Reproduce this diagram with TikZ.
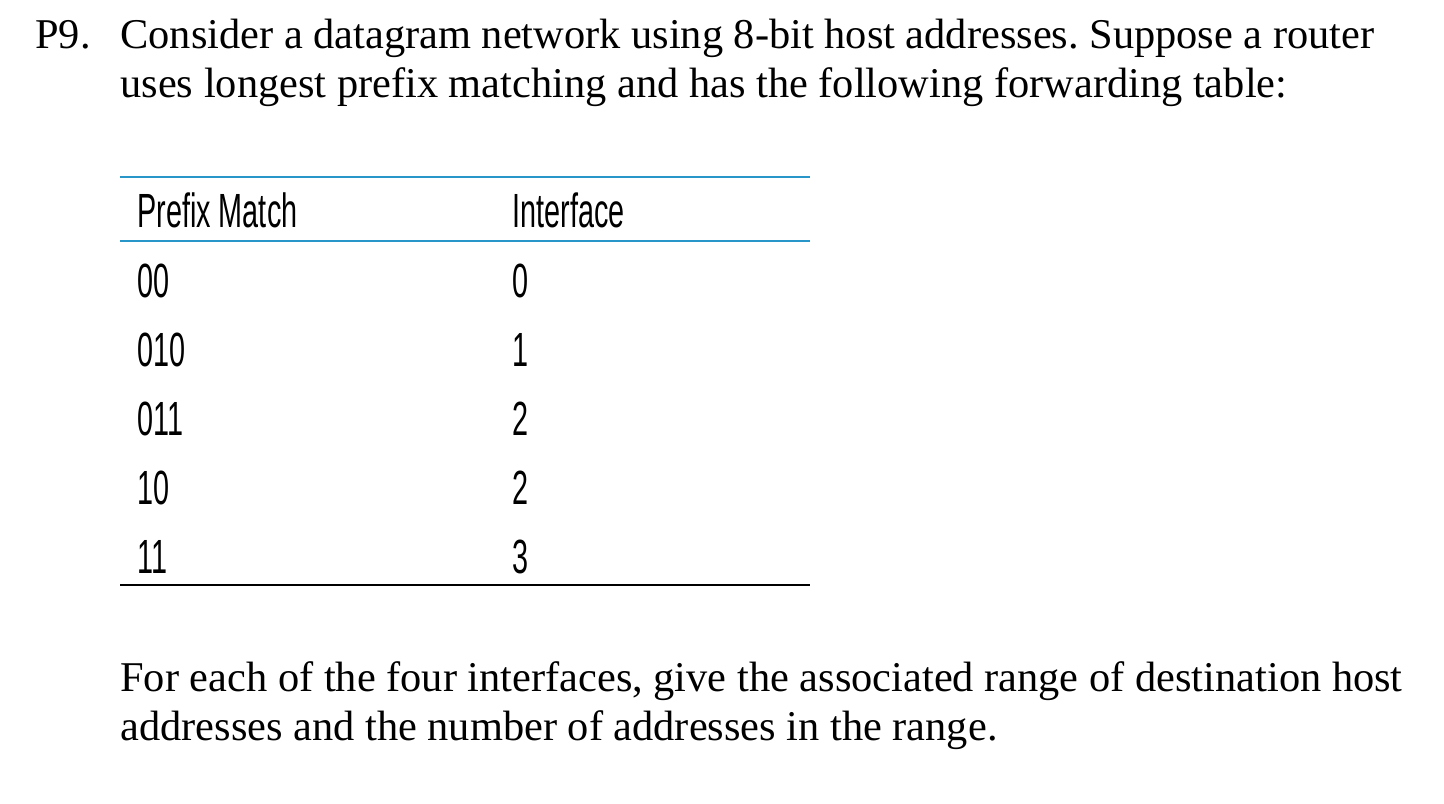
\documentclass[tikz,border=0pt]{standalone}
\usepackage{fontspec}
\setmainfont{Liberation Serif}
\newfontfamily\tabfont[FakeStretch=0.6]{Liberation Sans}
\usetikzlibrary{positioning}
\frenchspacing
\definecolor{rulecyan}{RGB}{40,150,200}
\tikzset{
  para/.style={anchor=base west, inner sep=0pt, font=\fontsize{21.2}{25}\selectfont},
  cell/.style={anchor=base west, inner sep=0pt, font=\tabfont\fontsize{24}{28}\selectfont},
  bluerule/.style={rulecyan, line width=0.8pt},
  blackrule/.style={black, line width=0.8pt},
}
\begin{document}
\begin{tikzpicture}[x=0.5pt, y=-0.5pt]
  \useasboundingbox (0,0) rectangle (1444,803);

  % question text
  \node[para] (num) at (35,48) {P9.};
  \node[para] (q1) at (120,48) {Consider a datagram network using 8-bit host addresses. Suppose a router};
  \node[para] (q2) at (120,97) {uses longest prefix matching and has the following forwarding table:};

  % table rules
  \coordinate (tl) at (120,177);
  \coordinate (tr) at (810,177);
  \coordinate (ml) at (120,241);
  \coordinate (mr) at (810,241);
  \coordinate (bl) at (120,585);
  \coordinate (br) at (810,585);
  \draw[bluerule] (tl) -- (tr);
  \draw[bluerule] (ml) -- (mr);
  \draw[blackrule] (bl) -- (br);

  % table cells
  \node[cell] (hpre) at (137,227) {Prefix Match};
  \node[cell] (hint) at (512,227) {Interface};
  \foreach \pre/\int [count=\i] in {00/0, 010/1, 011/2, 10/2, 11/3} {
    \node[cell] (pre\i) at (137,228+69*\i) {\pre};
    \node[cell] (int\i) at (512,228+69*\i) {\int};
  }

  % closing text
  \node[para] (a1) at (120,691) {For each of the four interfaces, give the associated range of destination host};
  \node[para] (a2) at (120,740) {addresses and the number of addresses in the range.};
\end{tikzpicture}
\end{document}
